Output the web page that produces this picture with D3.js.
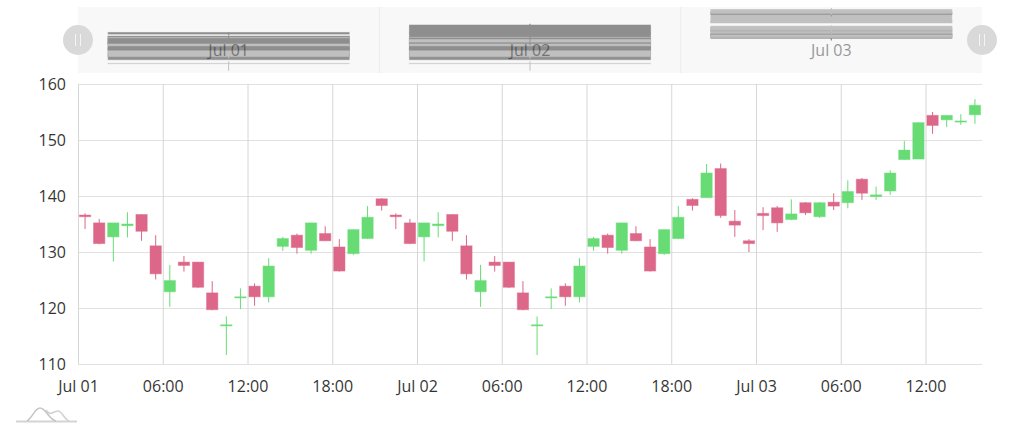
<!DOCTYPE html>
<html>
<head>
<meta charset="utf-8">
<style>
  body { margin: 0; background: #fff; }
  text { font-family: "Open Sans", sans-serif; }
</style>
<script src="https://cdn.jsdelivr.net/npm/d3@7"></script>
</head>
<body>
<div id="chart"></div>
<script>
// hourly values, starting Jul 01 00:00
var opens = [136.6, 135.2, 132.7, 134.7, 136.7, 131.1, 122.9, 128.2, 128.2, 122.7, 116.8, 121.8, 123.9, 122.0, 131.0, 133.0,
  130.3, 133.3, 130.9, 129.7, 132.4, 139.5, 136.6, 135.2, 132.7, 134.7, 136.7, 131.1, 122.9, 128.2, 128.2, 122.7,
  116.8, 121.8, 123.9, 122.0, 131.0, 133.0, 130.3, 133.3, 130.9, 129.7, 132.4, 139.4, 139.7, 144.9, 135.5, 132.0,
  136.9, 137.9, 135.8, 138.8, 136.3, 138.9, 138.8, 143.0, 139.9, 140.9, 146.5, 146.6, 154.4, 153.6, 153.2, 154.5];
var closes = [136.3, 131.5, 135.2, 135.0, 133.7, 126.1, 124.9, 127.6, 123.7, 119.7, 117.0, 122.0, 122.0, 127.5, 132.4, 130.8,
  135.2, 132.0, 126.6, 134.0, 136.2, 138.3, 136.3, 131.5, 135.2, 135.0, 133.7, 126.1, 124.9, 127.6, 123.7, 119.7,
  117.0, 122.0, 122.0, 127.5, 132.4, 130.8, 135.2, 132.0, 126.6, 134.0, 136.2, 138.3, 144.1, 136.5, 134.8, 131.5,
  136.5, 135.2, 136.8, 137.0, 138.8, 138.2, 140.8, 140.5, 140.2, 144.1, 148.2, 153.1, 152.6, 154.4, 153.4, 156.2];
var highs = [136.9, 135.9, 135.2, 137.1, 136.7, 133.0, 127.7, 129.3, 128.2, 124.8, 118.5, 123.5, 124.4, 128.9, 132.7, 133.3,
  135.2, 134.6, 132.3, 134.0, 138.2, 139.6, 136.9, 135.9, 135.2, 137.1, 136.7, 133.0, 127.7, 129.3, 128.2, 124.8,
  118.5, 123.5, 124.4, 128.9, 132.7, 133.3, 135.2, 134.6, 132.3, 134.0, 138.2, 139.6, 145.7, 145.8, 137.5, 132.3,
  138.0, 138.2, 139.4, 138.9, 138.9, 140.5, 142.8, 143.2, 141.7, 144.6, 149.8, 153.1, 155.0, 154.4, 154.6, 157.3];
var lows = [134.1, 131.4, 128.3, 132.6, 132.0, 125.1, 120.2, 126.5, 123.6, 119.6, 111.6, 119.8, 120.4, 121.0, 130.2, 129.7,
  129.7, 132.0, 126.5, 129.5, 132.3, 137.4, 134.1, 131.4, 128.3, 132.6, 132.0, 125.1, 120.2, 126.5, 123.6, 119.6,
  111.6, 119.8, 120.4, 121.0, 130.2, 129.7, 129.7, 132.0, 126.5, 129.5, 132.3, 137.4, 139.7, 136.1, 132.7, 130.0,
  133.9, 133.6, 135.7, 136.6, 136.1, 137.5, 137.8, 139.3, 139.3, 140.2, 146.5, 146.6, 151.1, 152.3, 152.7, 152.9];
var yTicks = [110, 120, 130, 140, 150, 160];
var dayLabels = ['Jul 01', 'Jul 02', 'Jul 03'];

var riseColor = '#67dc75';
var fallColor = '#dc6788';
var miniRise = '#c0c0c0';
var miniFall = '#8e8e8e';

var width = 1010, height = 432;
var plotLeft = 78, plotRight = 982, plotTop = 84, plotBottom = 364;
var start = new Date(Date.UTC(2020, 6, 1));

var candles = opens.map(function(o, i) {
  return {
    i: i,
    date: d3.utcHour.offset(start, i),
    day: dayLabels[Math.floor(i / 24)],
    open: o,
    close: closes[i],
    high: highs[i],
    low: lows[i]
  };
});

var svg = d3.select('#chart').append('svg')
  .attr('width', width)
  .attr('height', height)
  .style('display', 'block');

var x = d3.scaleUtc()
  .domain([start, d3.utcHour.offset(start, opens.length)])
  .range([plotLeft, plotRight]);
var y = d3.scaleLinear().domain([110, 160]).range([plotBottom, plotTop]);
var slot = (plotRight - plotLeft) / opens.length;
var bodyWidth = slot * 0.8;

var formatDay = d3.utcFormat('%b %d');
var formatHour = d3.utcFormat('%H:%M');

// horizontal grid + value labels
svg.append('g')
  .attr('class', 'y-axis')
  .attr('transform', 'translate(' + plotLeft + ',0)')
  .call(d3.axisLeft(y).tickValues(yTicks).tickSize(-(plotRight - plotLeft)).tickPadding(12))
  .call(function(g) {
    g.select('.domain').remove();
    g.selectAll('line').attr('stroke', '#e1e1e1');
    g.selectAll('text').attr('font-size', 16).attr('fill', '#000').attr('opacity', 0.8);
  });

// vertical grid + time labels
svg.append('g')
  .attr('class', 'x-axis')
  .attr('transform', 'translate(0,' + plotBottom + ')')
  .call(d3.axisBottom(x)
    .ticks(d3.utcHour.every(6))
    .tickSize(-(plotBottom - plotTop))
    .tickPadding(17)
    .tickFormat(function(d) {
      return d.getUTCHours() === 0 ? formatDay(d) : formatHour(d);
    }))
  .call(function(g) {
    g.select('.domain').remove();
    g.selectAll('line').attr('stroke', '#d6d6d6');
    g.selectAll('text').attr('font-size', 16).attr('fill', '#000').attr('opacity', 0.8);
  });

// main candles
var candle = svg.append('g').attr('class', 'candles')
  .selectAll('g')
  .data(candles)
  .enter().append('g');

candle.append('line')
  .attr('x1', function(d) { return x(d.date) + slot / 2; })
  .attr('x2', function(d) { return x(d.date) + slot / 2; })
  .attr('y1', function(d) { return y(d.high); })
  .attr('y2', function(d) { return y(d.low); })
  .attr('stroke', function(d) { return d.close >= d.open ? riseColor : fallColor; });

candle.append('rect')
  .attr('x', function(d) { return x(d.date) + (slot - bodyWidth) / 2; })
  .attr('y', function(d) { return y(Math.max(d.open, d.close)); })
  .attr('width', bodyWidth)
  .attr('height', function(d) { return Math.abs(y(d.open) - y(d.close)); })
  .attr('fill', function(d) { return d.close >= d.open ? riseColor : fallColor; })
  .attr('stroke', function(d) { return d.close >= d.open ? riseColor : fallColor; })
  .attr('stroke-opacity', 0.45);

// scrollbar on top, the same candles grouped by day
var scrollTop = 7, scrollBottom = 73;
var miniX = d3.scaleBand().domain(dayLabels).range([plotLeft, plotRight]).paddingInner(0.2).paddingOuter(0.1);
var miniY = d3.scaleLinear().domain([110, 158]).range([scrollBottom, scrollTop]);

var scrollbar = svg.append('g').attr('class', 'scrollbar');

scrollbar.append('rect')
  .attr('x', plotLeft)
  .attr('y', scrollTop)
  .attr('width', plotRight - plotLeft)
  .attr('height', scrollBottom - scrollTop)
  .attr('fill', '#f8f8f8');

scrollbar.selectAll('.day-line')
  .data(dayLabels.slice(1))
  .enter().append('line')
  .attr('class', 'day-line')
  .attr('x1', function(d) { return miniX(d) - miniX.step() * 0.1; })
  .attr('x2', function(d) { return miniX(d) - miniX.step() * 0.1; })
  .attr('y1', scrollTop)
  .attr('y2', scrollBottom)
  .attr('stroke', '#ececec');

var mini = scrollbar.append('g')
  .selectAll('g')
  .data(candles)
  .enter().append('g');

mini.append('line')
  .attr('x1', function(d) { return miniX(d.day) + miniX.bandwidth() / 2; })
  .attr('x2', function(d) { return miniX(d.day) + miniX.bandwidth() / 2; })
  .attr('y1', function(d) { return miniY(d.high); })
  .attr('y2', function(d) { return miniY(d.low); })
  .attr('stroke', function(d) { return d.close >= d.open ? miniRise : miniFall; });

mini.append('rect')
  .attr('x', function(d) { return miniX(d.day); })
  .attr('y', function(d) { return miniY(Math.max(d.open, d.close)); })
  .attr('width', miniX.bandwidth())
  .attr('height', function(d) { return Math.abs(miniY(d.open) - miniY(d.close)); })
  .attr('fill', function(d) { return d.close >= d.open ? miniRise : miniFall; })
  .attr('stroke', function(d) { return d.close >= d.open ? miniRise : miniFall; })
  .attr('stroke-opacity', 0.5);

scrollbar.selectAll('.day-label')
  .data(dayLabels)
  .enter().append('text')
  .attr('class', 'day-label')
  .attr('x', function(d) { return miniX(d) + miniX.bandwidth() / 2; })
  .attr('y', 56)
  .attr('text-anchor', 'middle')
  .attr('font-size', 16)
  .attr('fill', '#000')
  .attr('opacity', 0.4)
  .text(function(d) { return d; });

// scrollbar grips
var grip = scrollbar.selectAll('.grip')
  .data([plotLeft, plotRight])
  .enter().append('g')
  .attr('class', 'grip')
  .attr('transform', function(d) { return 'translate(' + d + ',40)'; });

grip.append('circle').attr('r', 15).attr('fill', '#d9d9d9');
grip.selectAll('rect')
  .data([-3, 2])
  .enter().append('rect')
  .attr('x', function(d) { return d; })
  .attr('y', -6)
  .attr('width', 1)
  .attr('height', 12)
  .attr('fill', '#fff')
  .attr('fill-opacity', 0.7);

// little logo, bottom left
var logo = svg.append('g').attr('class', 'logo').attr('fill', 'none').attr('stroke-width', 1.5);
logo.append('path')
  .attr('d', 'M16 421.5H77')
  .attr('stroke', '#d4d4d4')
  .attr('stroke-width', 2);
logo.append('path')
  .attr('d', 'M27 421C33 417 35 408 40 408C46 408 49 420 56 421')
  .attr('stroke', '#c4c4c4');
logo.append('path')
  .attr('d', 'M46 410C48 413 50 414 52 413C54 412 56 411 58 411C62 411 64 419 69 421')
  .attr('stroke', '#d0d0d0');
</script>
</body>
</html>
